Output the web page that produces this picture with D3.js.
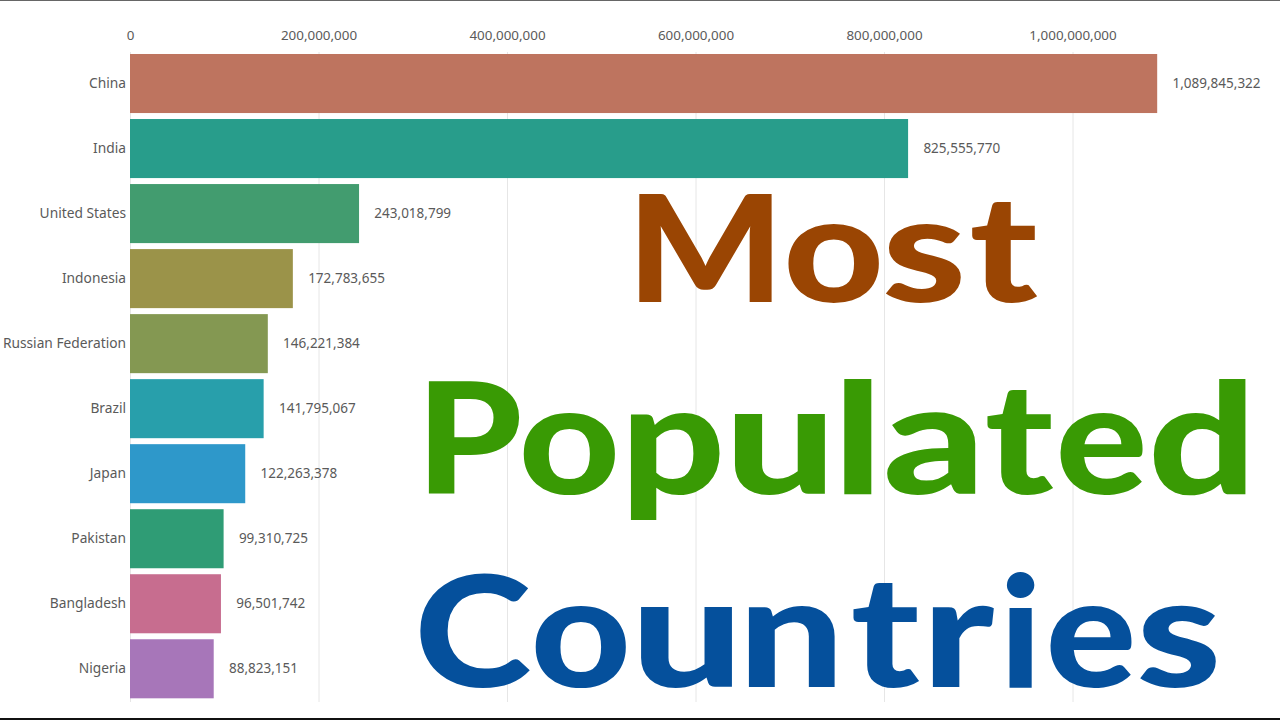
<!DOCTYPE html>
<html><head><meta charset="utf-8">
<script src="https://cdn.jsdelivr.net/npm/d3@7"></script>
<style>html,body{margin:0;padding:0;background:#fff;overflow:hidden}svg{display:block}</style>
</head><body><svg id="c" width="1280" height="720"></svg>
<script>
const countries=["China","India","United States","Indonesia","Russian Federation","Brazil","Japan","Pakistan","Bangladesh","Nigeria"];
const populations=[1089845322,825555770,243018799,172783655,146221384,141795067,122263378,99310725,96501742,88823151];
const barColors=["#bc705a","#219a87","#3c996a","#989043","#80954c","#219ca8","#2795c8","#289971","#c5688b","#a472b7"];
const tickValues=[0,200000000,400000000,600000000,800000000,1000000000];
const titleWords=["Most","Populated","Countries"];
const titleColors=["#9a4503","#399a04","#05509c"];
const titleSizes=[148,155,155];
const titleBaselines=[302,494,687];
// ink extents (left, right) of each letter of the title words
const titleInk=[
 [[639,772],[788,880],[886,962],[972,1038]],
 [[428,520],[523,615],[630,720],[735,825],[843,872],[887,976],[987,1053],[1060,1143],[1153,1246]],
 [[420,530],[535,626],[641,732],[748,835],[853,919],[932,995],[1006,1035],[1050,1132],[1140,1217]]
];
const svg=d3.select("#c");
const font="'Noto Sans',sans-serif";
const x=d3.scaleLinear().domain([0,1000000000]).range([130,1072.5]);
const y=d3.scaleBand().domain(countries).range([51,701.3]).paddingInner(0.092).paddingOuter(0.046);
const fmt=d3.format(",");
svg.append("rect").attr("width",1280).attr("height",1).attr("fill","#666");
svg.append("rect").attr("y",718).attr("width",1280).attr("height",2).attr("fill","#111");
const grid=svg.append("g").attr("transform","translate(0,52)")
 .call(d3.axisTop(x).tickValues(tickValues).tickFormat(fmt).tickSize(-650));
grid.select(".domain").remove();
grid.selectAll(".tick line").attr("stroke","#e6e6e6");
grid.selectAll(".tick text").attr("font-family",font).attr("font-size",13.4).attr("fill","#5a5a5a").attr("y",-12).attr("dy",0);
svg.append("g").selectAll("rect").data(countries).join("rect")
 .attr("x",x(0)).attr("y",d=>y(d)).attr("height",y.bandwidth())
 .attr("width",(d,i)=>x(populations[i])-x(0)).attr("fill",(d,i)=>barColors[i]).attr("fill-opacity",0.97);
svg.append("g").selectAll("text").data(countries).join("text")
 .attr("x",126).attr("y",d=>y(d)+y.bandwidth()/2).attr("dy","0.32em").attr("text-anchor","end")
 .attr("font-family",font).attr("font-size",13.75).attr("fill","#5a5a5a").text(d=>d);
svg.append("g").selectAll("text").data(countries).join("text")
 .attr("x",(d,i)=>x(populations[i])+15.3).attr("y",d=>y(d)+y.bandwidth()/2).attr("dy","0.32em")
 .attr("font-family",font).attr("font-size",13.5).attr("fill","#5a5a5a").text((d,i)=>fmt(populations[i]));
const ctx=document.createElement("canvas").getContext("2d");
titleWords.forEach((word,w)=>{
 ctx.font=`900 ${titleSizes[w]}px Lato`;
 const t=svg.append("text").attr("y",titleBaselines[w]).attr("font-family","Lato,sans-serif")
  .attr("font-weight",900).attr("font-size",titleSizes[w]).attr("fill",titleColors[w]);
 t.selectAll("tspan").data(word.split("")).join("tspan")
  .each(function(ch,i){
    const m=ctx.measureText(ch),l=-m.actualBoundingBoxLeft,r=m.actualBoundingBoxRight;
    const [a,b]=titleInk[w][i],sx=(b-a)/(r-l);
    d3.select(this).attr("x",a-l*sx).attr("textLength",m.width*sx).attr("lengthAdjust","spacingAndGlyphs").text(ch);
  });
});
</script></body></html>
